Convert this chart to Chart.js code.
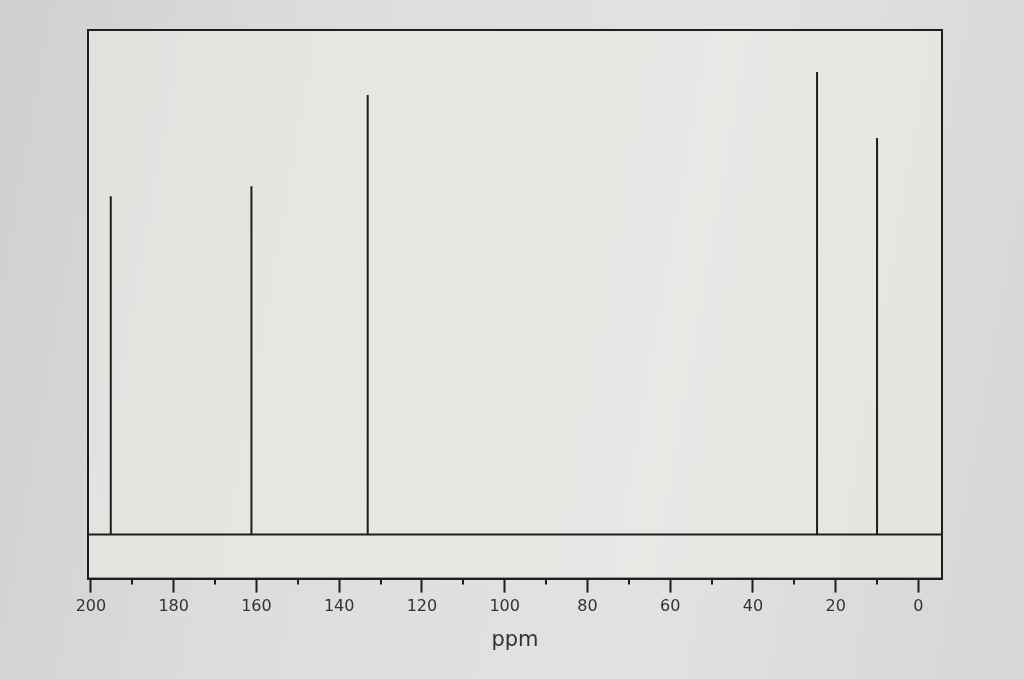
<!DOCTYPE html>
<html>
<head>
<meta charset="utf-8">
<script src="https://cdn.jsdelivr.net/npm/chart.js@4/dist/chart.umd.min.js"></script>
<style>
  html, body { margin: 0; padding: 0; }
  body {
    width: 1024px; height: 679px; overflow: hidden;
    background: linear-gradient(100deg, #cfcfcd 0%, #dddddb 30%, #e2e2e0 65%, #d6d6d4 100%);
  }
  #wrap { width: 1024px; height: 679px; position: relative; }
</style>
</head>
<body>
<div id="wrap"><canvas id="spec"></canvas></div>
<script>
// 13C NMR stick spectrum
const shifts = [195.2, 161.2, 133.1, 24.5, 10.0];   // ppm
const intensities = [338, 348, 439, 462, 396];        // arbitrary units
const ppmMin = -5.7;
const ppmMax = 200.7;
const intensityMin = -44;
const intensityMax = 504;
const majorStep = 20;
const minorStep = 10;
const axisTitle = 'ppm';

// build stick spectrum line from the peak lists
let points = [{ x: ppmMax, y: 0 }];
shifts.forEach((s, i) => {
  points.push({ x: s, y: 0 });
  points.push({ x: s, y: intensities[i] });
  points.push({ x: s, y: 0 });
});
points.push({ x: ppmMin, y: 0 });

const ink = '#1e1e1e';

const framePlugin = {
  id: 'frame',
  beforeDraw(chart) {
    let { ctx, chartArea: a } = chart;
    ctx.save();
    ctx.fillStyle = 'rgba(236,236,234,0.55)';
    ctx.fillRect(a.left, a.top, a.right - a.left, a.bottom - a.top);
    ctx.restore();
  },
  afterDraw(chart) {
    let { ctx, chartArea: a } = chart;
    let x = chart.scales.x;
    ctx.save();
    ctx.strokeStyle = ink;
    ctx.lineWidth = 2;
    ctx.strokeRect(a.left, a.top, a.right - a.left, a.bottom - a.top);
    // short minor ticks
    for (let v = minorStep; v < 200; v += majorStep) {
      let px = Math.round(x.getPixelForValue(v));
      ctx.beginPath();
      ctx.moveTo(px, a.bottom);
      ctx.lineTo(px, a.bottom + 6);
      ctx.stroke();
    }
    ctx.restore();
  }
};

new Chart(document.getElementById('spec').getContext('2d'), {
  type: 'line',
  data: {
    datasets: [{
      data: points,
      borderColor: ink,
      borderWidth: 2,
      pointRadius: 0,
      tension: 0,
      fill: false
    }]
  },
  options: {
    responsive: true,
    maintainAspectRatio: false,
    animation: false,
    layout: { padding: { left: 88, right: 82, top: 30, bottom: 26 } },
    plugins: { legend: { display: false }, tooltip: { enabled: false } },
    scales: {
      x: {
        type: 'linear',
        reverse: true,
        min: ppmMin,
        max: ppmMax,
        border: { display: true, color: ink, width: 2 },
        grid: {
          drawOnChartArea: false,
          drawTicks: true,
          tickLength: 14,
          tickWidth: 2,
          tickColor: ctx => (ctx.tick && ctx.tick.value % majorStep === 0) ? ink : 'rgba(0,0,0,0)'
        },
        ticks: {
          stepSize: minorStep,
          includeBounds: false,
          autoSkip: false,
          maxRotation: 0,
          padding: 5,
          color: '#333',
          font: { family: 'DejaVu Sans', size: 16 },
          callback: v => (v % majorStep === 0) ? String(v) : ''
        },
        title: {
          display: true,
          text: axisTitle,
          color: '#333',
          font: { family: 'DejaVu Sans', size: 21 },
          padding: { top: 6, bottom: 0 }
        }
      },
      y: {
        display: false,
        min: intensityMin,
        max: intensityMax
      }
    }
  },
  plugins: [framePlugin]
});
</script>
</body>
</html>
